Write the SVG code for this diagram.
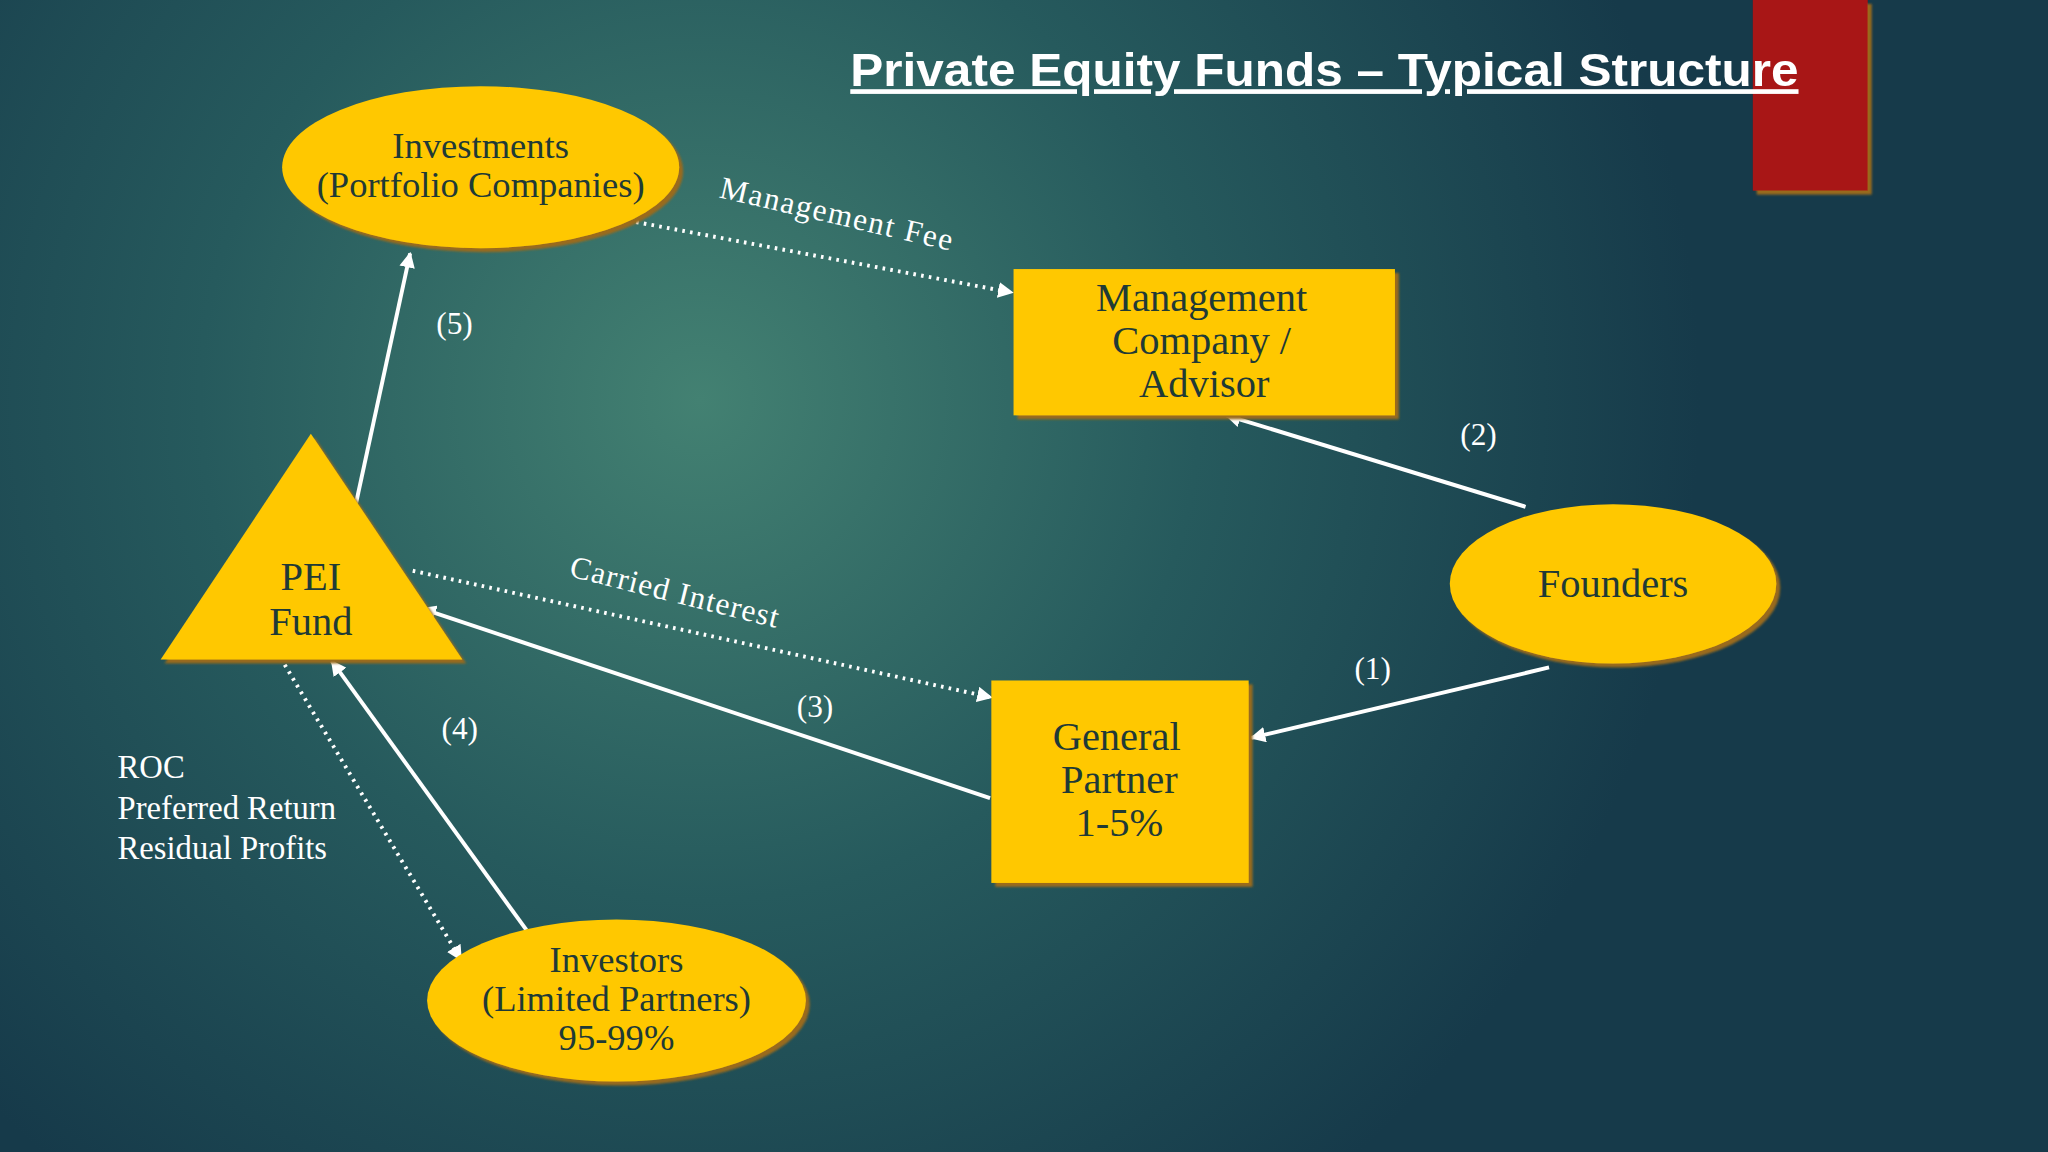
<svg xmlns="http://www.w3.org/2000/svg" width="2048" height="1152" viewBox="0 0 2048 1152">
<defs>
<radialGradient id="bg" cx="700" cy="400" r="1000" gradientUnits="userSpaceOnUse">
<stop offset="0" stop-color="#438172"/><stop offset="0.5" stop-color="#265a5d"/><stop offset="1" stop-color="#163a4a"/>
</radialGradient>
<filter id="sh" x="-10%" y="-10%" width="130%" height="130%"><feDropShadow dx="3" dy="3" stdDeviation="1" flood-color="#9a6a1a"/></filter>
<marker id="ah" viewBox="0 0 10 10" refX="9" refY="5" markerWidth="4" markerHeight="4" orient="auto"><path d="M0,0L10,5L0,10z" fill="#fff"/></marker>
<style>
.n{fill:#ffc800;filter:url(#sh)}
.t{font-family:"Liberation Serif",serif;fill:#1f3a36;text-anchor:middle}
.w{font-family:"Liberation Serif",serif;fill:#fff}
.s{stroke:#fff;stroke-width:3;fill:none;marker-end:url(#ah)}
.d{stroke:#fff;stroke-width:3;stroke-dasharray:2 4;fill:none;marker-end:url(#ah)}
</style>
</defs>
<rect width="2048" height="1152" fill="url(#bg)"/>
<g transform="scale(1.30612)">
<rect x="1342" y="0" width="88" height="146" fill="#a81616" filter="url(#sh)"/>
<text x="651" y="66" font-family="Liberation Sans,sans-serif" font-weight="bold" font-size="36" fill="#fff" text-decoration="underline" textLength="726" lengthAdjust="spacingAndGlyphs">Private Equity Funds – Typical Structure</text>
<g id="connectors">
<line class="d" x1="487" y1="170" x2="775" y2="224"/>
<line class="s" x1="272" y1="388" x2="314" y2="194"/>
<line class="s" x1="1168" y1="388" x2="939" y2="318"/>
<line class="s" x1="1186" y1="511" x2="958" y2="565"/>
<line class="s" x1="758" y1="611" x2="323" y2="466"/>
<line class="d" x1="316" y1="437" x2="759" y2="534"/>
<line class="s" x1="403" y1="712" x2="254" y2="506"/>
<line class="d" x1="218" y1="509" x2="353" y2="735"/>
<text class="w" font-size="24" transform="translate(550,151) rotate(13)" textLength="182">Management Fee</text>
<text class="w" font-size="24" transform="translate(435,441) rotate(14)" textLength="164">Carried Interest</text>
<text class="w" font-size="24" x="334" y="256">(5)</text>
<text class="w" font-size="24" x="1118" y="341">(2)</text>
<text class="w" font-size="24" x="1037" y="520">(1)</text>
<text class="w" font-size="24" x="610" y="549">(3)</text>
<text class="w" font-size="24" x="338" y="566">(4)</text>
<text class="w" font-size="25" x="90" y="596">ROC</text>
<text class="w" font-size="25" x="90" y="627">Preferred Return</text>
<text class="w" font-size="25" x="90" y="658">Residual Profits</text>
</g>
<g id="investments"><ellipse class="n" cx="368" cy="128" rx="152" ry="62"/>
<text class="t" font-size="28" x="368" y="121">Investments</text><text class="t" font-size="28" x="368" y="151">(Portfolio Companies)</text></g>
<g id="mgmt"><rect class="n" x="776" y="206" width="292" height="112"/>
<text class="t" font-size="31" x="920" y="238">Management</text><text class="t" font-size="31" x="920" y="271">Company /</text><text class="t" font-size="31" x="922" y="304">Advisor</text></g>
<g id="founders"><ellipse class="n" cx="1235" cy="447" rx="125" ry="61"/>
<text class="t" font-size="31" x="1235" y="457">Founders</text></g>
<g id="gp"><rect class="n" x="759" y="521" width="197" height="155"/>
<text class="t" font-size="31" x="855" y="574">General</text><text class="t" font-size="31" x="857" y="607">Partner</text><text class="t" font-size="31" x="857" y="640">1-5%</text></g>
<g id="pei"><polygon class="n" points="238,332 354,505 123,505"/>
<text class="t" font-size="31" x="238" y="452">PEI</text><text class="t" font-size="31" x="238" y="486">Fund</text></g>
<g id="investors"><ellipse class="n" cx="472" cy="766" rx="145" ry="62"/>
<text class="t" font-size="28" x="472" y="744">Investors</text><text class="t" font-size="28" x="472" y="774">(Limited Partners)</text><text class="t" font-size="28" x="472" y="804">95-99%</text></g>
</g>
</svg>
